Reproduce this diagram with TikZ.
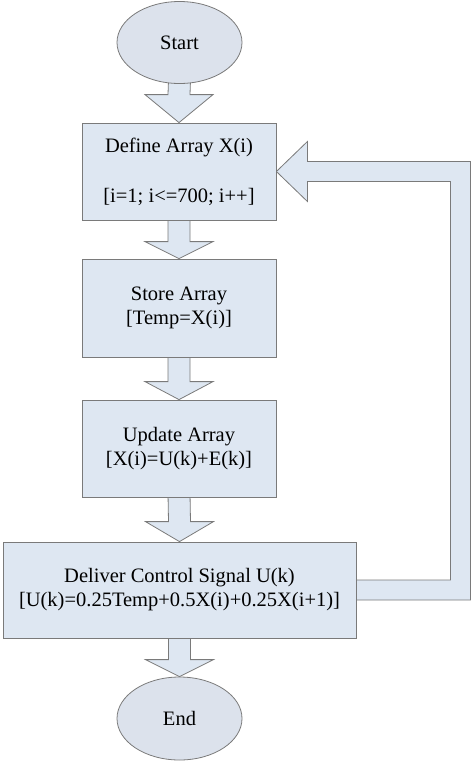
\documentclass[tikz,border=0pt]{standalone}
\usepackage{fontspec}
\setmainfont{Liberation Serif}
\usetikzlibrary{calc,shapes.geometric}
\pgfdeclarelayer{bg}
\pgfsetlayers{bg,main}
\definecolor{boxfill}{RGB}{222,231,242}
\definecolor{ellfill}{RGB}{220,226,236}
\definecolor{edge}{RGB}{122,122,122}
\tikzset{
  every node/.style={font=\fontsize{20.5}{24}\selectfont},
  stepbox/.style={draw=edge, line width=0.8pt, fill=boxfill, rectangle, align=center, inner sep=0pt},
  term/.style={draw=edge, line width=0.8pt, fill=ellfill, ellipse, inner sep=0pt, minimum width=125pt, minimum height=82pt},
  barrow/.style={draw=edge, line width=0.8pt, fill=boxfill, line join=miter}
}
\newcommand{\blockdown}[3]{%
  \begin{pgfonlayer}{bg}
  \draw[barrow] ($(#1.south)+(-11,-4)$) -- ($(#2.north)+(-11,-#3)$) -- ($(#2.north)+(-34,-#3)$)
    -- (#2.north) -- ($(#2.north)+(34,-#3)$) -- ($(#2.north)+(11,-#3)$) -- ($(#1.south)+(11,-4)$) -- cycle;
  \end{pgfonlayer}}
\begin{document}
\begin{tikzpicture}[x=1pt,y=-1pt]
\useasboundingbox (0,0) rectangle (474,764);
\node[term] (start) at (179.5,42.5) {Start};
\node[stepbox, minimum width=194pt, minimum height=97pt] (b1) at (179,171.5)
  {Define Array X(i)\\[26pt]{[}i=1; i<=700; i++]};
\node[stepbox, minimum width=194pt, minimum height=98pt] (b2) at (179,308)
  {Store Array\\{[}Temp=X(i)]};
\node[stepbox, minimum width=194pt, minimum height=97pt] (b3) at (179,448.5)
  {Update Array\\{[}X(i)=U(k)+E(k)]};
\node[stepbox, minimum width=353pt, minimum height=96pt] (b4) at (179.5,590)
  {Deliver Control Signal U(k)\\{[}U(k)=0.25Temp+0.5X(i)+0.25X(i+1)]};
\node[term, minimum height=83pt] (end) at (179.5,718.5) {End};
\blockdown{start}{b1}{28}
\blockdown{b1}{b2}{17}
\blockdown{b2}{b3}{18}
\blockdown{b3}{b4}{20}
\blockdown{b4}{end}{17}
\begin{pgfonlayer}{bg}
\draw[barrow] (b1.east) -- ($(b1.east)+(31,-30)$) -- ($(b1.east)+(31,-10)$)
  -- ($(b1.east)+(194,-10)$) -- ($(b4.east)+(114,10)$) -- ($(b4.east)+(-4,10)$)
  -- ($(b4.east)+(-4,-10)$) -- ($(b4.east)+(94,-10)$) -- ($(b1.east)+(174,10)$)
  -- ($(b1.east)+(31,10)$) -- ($(b1.east)+(31,30)$) -- cycle;
\end{pgfonlayer}
\end{tikzpicture}
\end{document}
